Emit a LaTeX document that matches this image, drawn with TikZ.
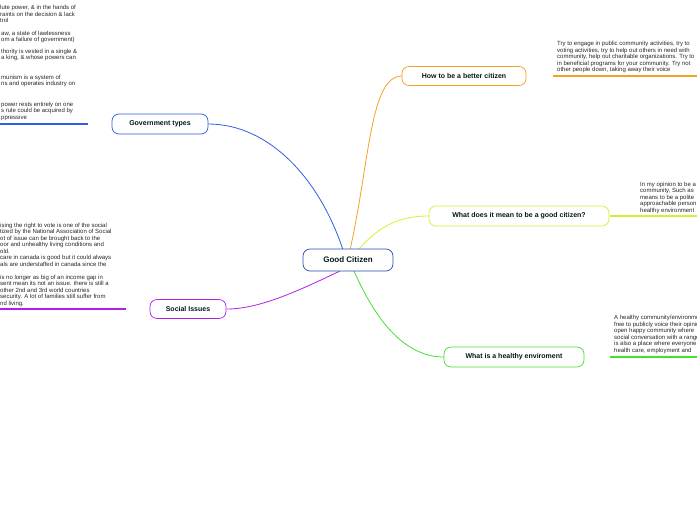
\documentclass[tikz,border=0pt]{standalone}
\usepackage{fontspec}
\setmainfont{Liberation Sans}
\begin{document}
\begin{tikzpicture}[x=1pt,y=-1pt,
  br/.style={draw,rounded corners=7pt,line width=0.7pt,fill=white,font=\fontsize{7}{8}\selectfont\bfseries,inner sep=0pt,text=black!80!teal},
  lf/.style={anchor=west,inner sep=0pt,align=left,font=\fontsize{6}{6.5}\selectfont,text=black!85},
  cn/.style={line width=0.8pt}]
\useasboundingbox (0,0) rectangle (697,520);
\clip (0,0) rectangle (697,520);
\definecolor{cb}{HTML}{2F5FE0}
\definecolor{cp}{HTML}{B020E8}
\definecolor{co}{HTML}{F5A020}
\definecolor{cy}{HTML}{D8EE30}
\definecolor{cg}{HTML}{44E030}
% connectors
\draw[cn,cb] (343,250) .. controls (320,180) and (270,124) .. (208,124);
\draw[cn,cp] (340,271) .. controls (300,290) and (260,309) .. (227,309);
\draw[cn,co] (350,250) .. controls (370,160) and (370,76) .. (402,76);
\draw[cn,cy] (358,250) .. controls (380,225) and (400,216) .. (429,216);
\draw[cn,cg] (354,271) .. controls (380,330) and (410,357) .. (444,357);
% leaf lines
\draw[line width=1.2pt,cb] (0,124) -- (88,124);
\draw[line width=1.2pt,cp] (0,309) -- (126,309);
\draw[line width=1.2pt,co] (553,76) -- (697,76);
\draw[line width=1.2pt,cy] (610,216) -- (697,216);
\draw[line width=1.2pt,cg] (610,357) -- (697,357);
% nodes
\node[br,draw=cb!80!black,minimum width=90pt,minimum height=22pt,font=\fontsize{8}{9}\selectfont\bfseries] (gc) at (348,260) {Good Citizen};
\node[br,draw=cb,minimum width=96pt,minimum height=20pt] (gt) at (160,124) {Government types};
\node[br,draw=cp,minimum width=76pt,minimum height=19pt] (si) at (188,309) {Social Issues};
\node[br,draw=co,minimum width=124pt,minimum height=19pt] (hb) at (464,76) {How to be a better citizen};
\node[br,draw=cy,minimum width=180pt,minimum height=20pt] (wd) at (519,216) {What does it mean to be a good citizen?};
\node[br,draw=cg,minimum width=140pt,minimum height=20pt] (wh) at (514,357) {What is a healthy enviroment};
% leaf texts
\node[lf] (g1) at (0,14) {lute power, \& in the hands of\\raints on the decision \& lack\\trol};
\node[lf] (g2) at (1,37) {aw, a state of lawlessness\\om a failure of government)};
\node[lf] (g3) at (1,55) {thority is vested in a single \&\\a king, \& whose powers can};
\node[lf] (g4) at (1,81) {munism is a system of\\ns and operates industry on};
\node[lf] (g5) at (1,111) {power rests entirely on one\\s rule could be acquired by\\ppressive};
\node[lf] (s1) at (0,264.5) {ising the right to vote is one of the social\\tized by the National Association of Social\\ot of issue can be brought back to the\\oor and unhealthy living conditions and\\old.\\care in canada is good but it could always\\als are understaffed in canada since the\\\\ is no longer as big of an income gap in\\sent mean its not an issue. there is still a\\other 2nd and 3rd world countries\\security. A lot of families still suffer from\\nd living.};
\node[lf] (o1) at (557,57) {Try to engage in public community activities, try to\\voting activities, try to help out others in need with\\community, help out charitable organizations. Try to\\in beneficial programs for your community. Try not\\other people down, taking away their voice};
\node[lf] (y1) at (640,197.5) {In my opinion to be a\\community, Such as\\means to be a polite\\approachable person\\healthy environment};
\node[lf] (h1) at (614,334.5) {A healthy community/environment\\free to publicly voice their opinions\\open happy community where\\social conversation with a range\\is also a place where everyone\\health care, employment and};
\end{tikzpicture}
\end{document}
